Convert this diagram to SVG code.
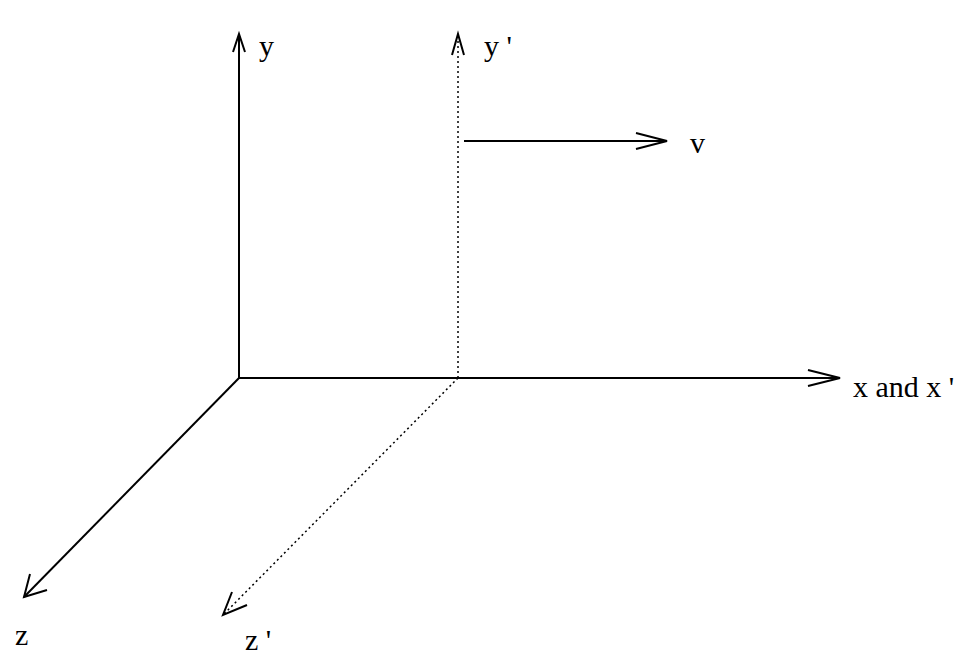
<svg xmlns="http://www.w3.org/2000/svg" width="965" height="662" viewBox="0 0 965 662">
<style>
.l{stroke:#000;stroke-width:2;fill:none}
.d{stroke:#000;stroke-width:1.5;fill:none;stroke-dasharray:2 3}
.h{stroke:#000;stroke-width:2;fill:none}
text{font-family:"Liberation Serif",serif;font-size:30px;fill:#000}
</style>
<rect width="965" height="662" fill="#fff"/>
<g id="connectors">
<line class="l" x1="239" y1="378" x2="239" y2="34"/><path class="h" d="M233 52 L239 34 L245 52"/>
<line class="l" x1="239" y1="378" x2="840" y2="378"/><path class="h" d="M808 370 L840 378 L808 386"/>
<line class="l" x1="239" y1="378" x2="24" y2="597"/><path class="h" d="M30 574 L24 597 L47 590"/>
<line class="d" x1="458" y1="378" x2="458" y2="34"/><path class="h" d="M452 55 L458 34 L464 55"/>
<line class="d" x1="458" y1="378" x2="223" y2="615"/><path class="h" d="M232 592 L223 615 L247 605"/>
<line class="l" x1="464" y1="141" x2="667" y2="141"/><path class="h" d="M636 133 L667 141 L636 149"/>
</g>
<g id="labels">
<text x="259" y="56">y</text>
<text x="484" y="56">y '</text>
<text x="690" y="153">v</text>
<text x="853" y="397">x and x '</text>
<text x="15" y="645">z</text>
<text x="245" y="650">z '</text>
</g>
</svg>
